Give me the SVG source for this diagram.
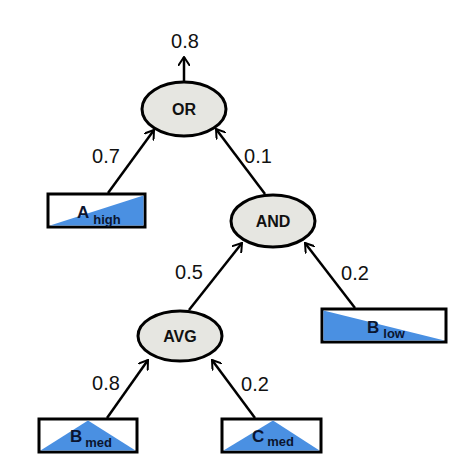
<svg xmlns="http://www.w3.org/2000/svg" width="474" height="474" viewBox="0 0 474 474">
<style>
.ell{fill:#e6e6e1;stroke:#000;stroke-width:3}
.box{fill:#fff;stroke:#000;stroke-width:3}
.tri{fill:#4a90e2}
.conn line{stroke:#000;stroke-width:2.5;marker-end:url(#arr)}
.w{font-family:"Liberation Sans",Arial,sans-serif;font-size:20px;fill:#111;text-anchor:middle}
.n{font-family:"Liberation Sans",Arial,sans-serif;font-size:16px;font-weight:bold;fill:#111;text-anchor:middle}
.b{font-family:"Liberation Sans",Arial,sans-serif;font-size:17px;font-weight:bold;fill:#0b1530}
.s{font-size:13px}
</style>
<defs>
<marker id="arr" viewBox="0 0 10 12" refX="9" refY="6" markerWidth="10" markerHeight="12" markerUnits="userSpaceOnUse" orient="auto">
<path d="M0,0 L9,6 L0,12" fill="none" stroke="#000" stroke-width="2"/>
</marker>
</defs>
<g id="connectors" class="conn">
<line x1="184" y1="82" x2="184" y2="57"/>
<line x1="108" y1="193" x2="154" y2="130"/>
<line x1="265" y1="194" x2="216" y2="129"/>
<line x1="189" y1="310" x2="242" y2="243"/>
<line x1="355" y1="308" x2="305" y2="243"/>
<line x1="107" y1="418" x2="148" y2="360"/>
<line x1="255" y1="418" x2="212" y2="360"/>
</g>
<g id="weights">
<text class="w" x="185" y="48">0.8</text>
<text class="w" x="106" y="163">0.7</text>
<text class="w" x="258" y="163">0.1</text>
<text class="w" x="189" y="279">0.5</text>
<text class="w" x="355" y="280">0.2</text>
<text class="w" x="106" y="390">0.8</text>
<text class="w" x="255" y="391">0.2</text>
</g>
<g id="OR">
<ellipse class="ell" cx="184" cy="109" rx="42" ry="27"/>
<text class="n" x="184" y="115">OR</text>
</g>
<g id="AND">
<ellipse class="ell" cx="273" cy="221" rx="42" ry="26"/>
<text class="n" x="273" y="227">AND</text>
</g>
<g id="AVG">
<ellipse class="ell" cx="180" cy="336" rx="42" ry="25"/>
<text class="n" x="180" y="342">AVG</text>
</g>
<g id="A_high">
<rect class="box" x="48" y="194" width="97" height="33"/>
<polygon class="tri" points="50,225.5 143.5,195.5 143.5,225.5"/>
<text class="b" x="77" y="218">A<tspan class="s" dx="4" dy="6">high</tspan></text>
</g>
<g id="B_low">
<rect class="box" x="322" y="309" width="124" height="33"/>
<polygon class="tri" points="323.5,310.5 444.5,340.5 323.5,340.5"/>
<text class="b" x="367" y="333">B<tspan class="s" dx="4" dy="5">low</tspan></text>
</g>
<g id="B_med">
<rect class="box" x="39" y="419" width="98" height="33"/>
<polygon class="tri" points="40.5,450.5 88,420.5 135.5,450.5"/>
<text class="b" x="70" y="442">B<tspan class="s" dx="3" dy="5">med</tspan></text>
</g>
<g id="C_med">
<rect class="box" x="222" y="419" width="99" height="33"/>
<polygon class="tri" points="223.5,450.5 273,420.5 319.5,450.5"/>
<text class="b" x="252" y="442">C<tspan class="s" dx="3" dy="4">med</tspan></text>
</g>
</svg>
